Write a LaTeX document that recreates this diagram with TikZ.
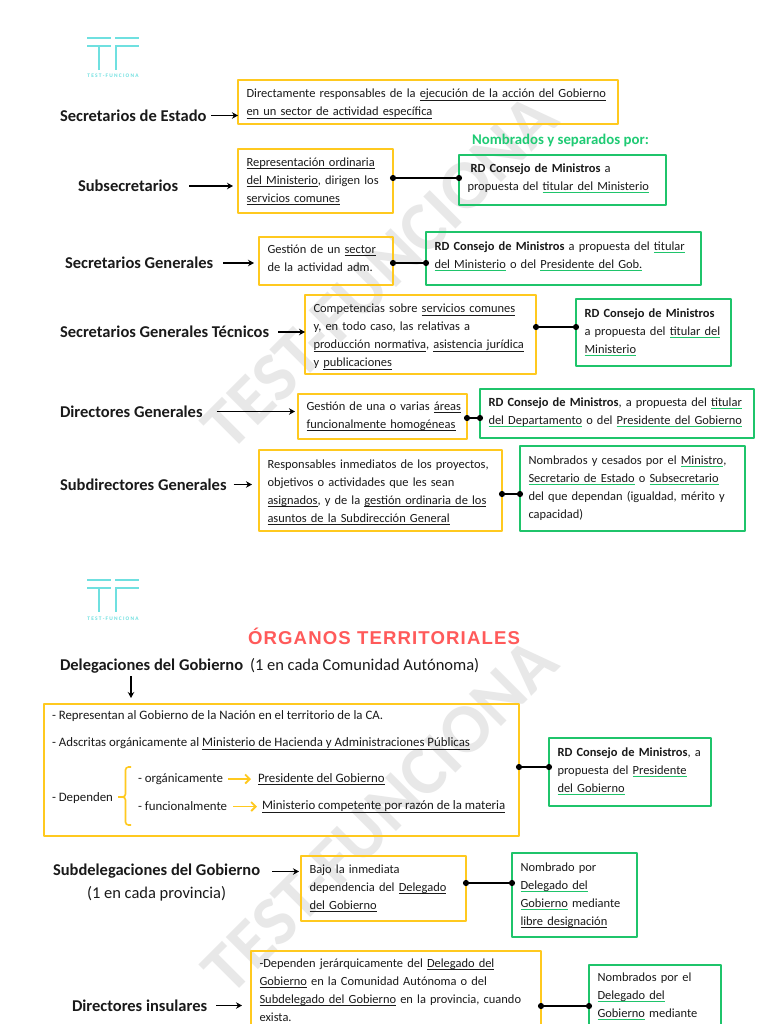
\documentclass[tikz,border=0pt]{standalone}
\usepackage{fontspec}
\setmainfont{Carlito}
\newfontfamily\titlefont[LetterSpace=6]{Liberation Sans}
\usetikzlibrary{arrows.meta,calc}
\definecolor{ybx}{HTML}{FFC91F}
\definecolor{gbx}{HTML}{1FC46B}
\definecolor{ttl}{HTML}{1FCB74}
\definecolor{redt}{HTML}{FF5A5A}
\definecolor{cyl}{HTML}{6FE0E0}
\definecolor{wmk}{HTML}{E8E8E8}
\definecolor{ink}{HTML}{1A1A1A}
\newsavebox\ulbox
\newcommand\ulc[2]{\leavevmode\sbox\ulbox{#2}\rlap{\textcolor{#1}{\rule[-2.6pt]{\wd\ulbox}{0.75pt}}}\usebox\ulbox}
\newcommand\un[1]{\ulc{ink}{#1}}
\newcommand\ug[1]{\ulc{gbx}{#1}}
% vertical fine tuning of a box's text: \dn at the start of its first line, \up at the end of its last
\newcommand\dn[1]{\rule{0pt}{\dimexpr 9pt+#1pt*2\relax}}
\newcommand\up[1]{\rule[-\dimexpr 2.6pt+#1pt*2\relax]{0pt}{0pt}}
\tikzset{
  boxat/.style n args={4}{at={({(#1+#3)/2},{(#2+#4)/2})},
     minimum width={(#3-#1)*1pt},minimum height={(#4-#2)*1pt},text width={(#3-#1-6)*1pt}},
  basebox/.style={rectangle,line width=2.9pt,inner xsep=0pt,inner ysep=0pt,outer sep=0pt,align=left,
     text=ink,font=\fontsize{12.45}{18}\selectfont,line join=round,
     execute at begin node={\leftskip=5.5pt\relax}},
  ybox/.style={basebox,draw=ybx},
  gbox/.style={basebox,draw=gbx},
  head/.style={font=\fontsize{16.5}{18}\selectfont\bfseries,text=ink,inner sep=0pt,outer sep=0pt},
  plain/.style={font=\fontsize{16.5}{18}\selectfont,text=ink,inner sep=0pt,outer sep=0pt},
  small/.style={font=\fontsize{12.85}{18}\selectfont,text=ink,inner sep=0pt,outer sep=0pt,anchor=west},
  arr/.style={line width=1.8pt,draw=black,-{Stealth[length=6pt,width=6.5pt]}},
  yarr/.style={line width=1.8pt,draw=ybx,-{Straight Barb[length=4.5pt,width=9pt]}},
  conn/.style={line width=1.9pt,draw=black,shorten <=-3pt,shorten >=-3pt,{Circle[length=6pt,width=6pt]}-{Circle[length=6pt,width=6pt]}},
  logoline/.style={draw=cyl,line width=1.6pt},
  logotext/.style={font=\fontsize{5.4}{6}\selectfont\bfseries,text=cyl,inner sep=0pt},
  wm/.style={font=\fontsize{70}{72}\selectfont\bfseries,text=wmk,rotate=45,inner sep=0pt}
}
\begin{document}
\begin{tikzpicture}[x=1pt,y=-1pt]
\useasboundingbox (0,0) rectangle (768,1024);
\clip (0,0) rectangle (768,1024);
\fill[white] (0,0) rectangle (768,1024);
% watermarks
\node[wm] (wma) at (380,272) {TEST-FUNCIONA};
\node[wm] (wmb) at (380,816) {TEST-FUNCIONA};
% logos
\foreach \yy in {0,542}{
  \draw[logoline] (87,38+\yy) -- (111,38+\yy);
  \draw[logoline] (87,46+\yy) -- (111,46+\yy);
  \draw[logoline] (99,46+\yy) -- (99,70+\yy);
  \draw[logoline] (115,38+\yy) -- (139,38+\yy);
  \draw[logoline] (115,46+\yy) -- (139,46+\yy);
  \draw[logoline] (116,46+\yy) -- (116,70+\yy);
}
\node[logotext] (lta) at (113,76) {T E S T - F U N C I O N A};
\node[logotext] (ltb) at (113,619) {T E S T - F U N C I O N A};
% titles
\node[font=\fontsize{14.8}{17}\selectfont\bfseries,text=ttl,inner sep=0pt] (tn) at (560.5,140.5) {Nombrados y separados por:};
\node[font=\titlefont\fontsize{18.6}{20}\selectfont\bfseries,text=redt,inner sep=0pt] (to) at (384,636.5) {ÓRGANOS TERRITORIALES};
% yellow boxes upper
\node[ybox,boxat={238}{80}{618}{124}] (y1) {\dn{1.5}Directamente responsables de la \un{ejecución de la acción del Gobierno}\\\un{en un sector de actividad específica}};
\node[ybox,boxat={238}{149}{393}{213}] (y2) {\un{Representación ordinaria}\\\un{del Ministerio}, dirigen los\\\un{servicios comunes}};
\node[ybox,boxat={259}{237}{393}{285}] (y3) {Gestión de un \un{sector}\\de la actividad adm.\up{2}};
\node[ybox,boxat={305}{295}{536}{374}] (y4) {\dn{2}Competencias sobre \un{servicios comunes}\\y, en todo caso, las relativas a\\\un{producción normativa}, \un{asistencia jurídica}\\y \un{publicaciones}};
\node[ybox,boxat={298}{394}{467}{439}] (y5) {Gestión de una o varias \un{áreas}\\\un{funcionalmente homogéneas}};
\node[ybox,boxat={259}{450}{502}{531}] (y6) {\dn{1.5}Responsables inmediatos de los proyectos,\\objetivos o actividades que les sean\\\un{asignados}, y de la \un{gestión ordinaria de los}\\\un{asuntos de la Subdirección General}};
% green boxes upper
\node[gbox,boxat={459}{155}{666}{205}] (g1) {\hspace*{3pt}\textbf{RD Consejo de Ministros} a\\propuesta del \ug{titular del Ministerio}\up{2}};
\node[gbox,boxat={426}{232}{701}{285}] (g2) {\textbf{RD Consejo de Ministros} a propuesta del \ug{titular}\\\ug{del Ministerio} o del \ug{Presidente del Gob.}\up{2}};
\node[gbox,boxat={576}{299}{731}{366}] (g3) {\textbf{RD Consejo de Ministros}\\a propuesta del \ug{titular del}\\\ug{Ministerio}};
\node[gbox,boxat={480}{389}{754}{438}] (g4) {\textbf{RD Consejo de Ministros}, a propuesta del \ug{titular}\\\ug{del Departamento} o del \ug{Presidente del Gobierno}\up{1}};
\node[gbox,boxat={520}{446}{745}{531}] (g5) {Nombrados y cesados por el \ug{Ministro},\\\ug{Secretario de Estado} o \ug{Subsecretario}\\del que dependan (igualdad, mérito y\\capacidad)\up{0.5}};
% lower boxes
\node[ybox,boxat={44}{704}{519}{836}] (y7) {};
\node[gbox,boxat={549}{738}{711}{806}] (g6) {\textbf{RD Consejo de Ministros}, a\\propuesta del \ug{Presidente}\\\ug{del Gobierno}\up{1}};
\node[ybox,boxat={301}{856}{466}{921}] (y8) {Bajo la inmediata\\dependencia del \un{Delegado}\\\un{del Gobierno}};
\node[gbox,boxat={512}{853}{637}{937}] (g7) {Nombrado por\\\ug{Delegado del}\\\ug{Gobierno} mediante\\\un{libre designación}};
\node[ybox,boxat={251}{951}{541}{1029}] (y9) {-Dependen jerárquicamente del \un{Delegado del}\\\un{Gobierno} en la Comunidad Autónoma o del\\\un{Subdelegado del Gobierno} en la provincia, cuando\\exista.};
\node[gbox,boxat={589}{965}{721}{1029}] (g8) {Nombrados por el\\\ug{Delegado del}\\\ug{Gobierno} mediante\up{1}};
% headings
\node[head,anchor=west] (h1) at (60,115.5) {Secretarios de Estado};
\node[head,anchor=west] (h2) at (78,186) {Subsecretarios};
\node[head,anchor=west] (h3) at (65,263) {Secretarios Generales};
\node[head,anchor=west] (h4) at (60,332) {Secretarios Generales Técnicos};
\node[head,anchor=west] (h5) at (60,411.5) {Directores Generales};
\node[head,anchor=west] (h6) at (60,484.5) {Subdirectores Generales};
\node[head,anchor=west] (h7) at (60,666) {Delegaciones del Gobierno};
\node[plain,anchor=west] (h7b) at (250,666) {(1 en cada Comunidad Autónoma)};
\node[head,anchor=west] (h8) at (53,871.5) {Subdelegaciones del Gobierno};
\node[plain,anchor=west] (h8b) at (87,894) {(1 en cada provincia)};
\node[head,anchor=west] (h9) at (72,1005.5) {Directores insulares};
\coordinate (h7s) at (131,676);
\coordinate (h7e) at (131,698);
% arrows
\draw[arr,shorten <=5pt] (h1.east) -- (y1.west|-h1.east);
\draw[arr,shorten <=11pt,shorten >=5pt] (h2.east) -- (y2.west|-h2.east);
\draw[arr,shorten <=10pt,shorten >=5pt] (h3.east) -- (y3.west|-h3.east);
\draw[arr,shorten <=9pt] (h4.east) -- (y4.west|-h4.east);
\draw[arr,shorten <=14pt,shorten >=3pt] (h5.east) -- (y5.west|-h5.east);
\draw[arr,shorten <=7pt,shorten >=7pt] (h6.east) -- (y6.west|-h6.east);
\draw[arr] (h7s) -- (h7e);
\draw[arr,shorten <=12pt,shorten >=2pt] (h8.east) -- (y8.west|-h8.east);
\draw[arr,shorten <=9pt,shorten >=9pt] (h9.east) -- (y9.west|-h9.east);
% connectors
\draw[conn] (y2.east|-0,178) -- (g1.west|-0,178);
\draw[conn] (y3.east|-0,263) -- (g2.west|-0,263);
\draw[conn] (y4.east|-0,327) -- (g3.west|-0,327);
\draw[conn] (y5.east|-0,418) -- (g4.west|-0,418);
\draw[conn] (y6.east|-0,494) -- (g5.west|-0,494);
\draw[conn] (y7.east|-0,767) -- (g6.west|-0,767);
\draw[conn] (y8.east|-0,883) -- (g7.west|-0,883);
\draw[conn] (y9.east|-0,1006) -- (g8.west|-0,1006);
% content of delegaciones box
\node[small] (d1) at (52,716.5) {- Representan al Gobierno de la Nación en el territorio de la CA.};
\node[small] (d2) at (52,743.5) {- Adscritas orgánicamente al \un{Ministerio de Hacienda y Administraciones Públicas}};
\node[small] (d3) at (52,798.5) {- Dependen};
\node[small] (d4) at (138,779) {- orgánicamente};
\node[small] (d5) at (258,779) {\un{Presidente del Gobierno}};
\node[small] (d6) at (138,806.5) {- funcionalmente};
\node[small] (d7) at (262,806.5) {\un{Ministerio competente por razón de la materia}};
\draw[yarr,shorten <=5pt,shorten >=7pt] (d4.east) -- (d5.west);
\draw[yarr,shorten <=6pt,shorten >=5pt] (d6.east) -- (d7.west);
\draw[draw=ybx,line width=1.6pt,rounded corners=3pt] (131,767) -- (125.5,767) -- (125.5,797) -- (118,797);
\draw[draw=ybx,line width=1.6pt,rounded corners=3pt] (118,797) -- (125.5,797) -- (125.5,825) -- (131,825);
\end{tikzpicture}
\end{document}
